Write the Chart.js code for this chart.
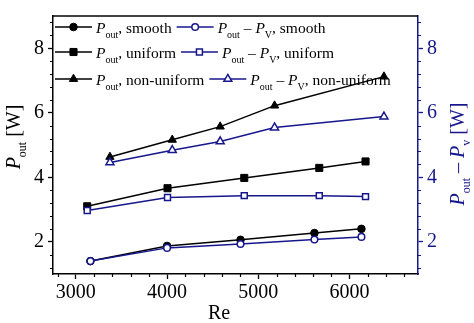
<!DOCTYPE html>
<html lang="en">
<head>
<meta charset="UTF-8">
<script src="https://cdn.jsdelivr.net/npm/chart.js"></script>
<title>Output power vs Re</title>
<style>
  body { margin: 0; background: #fff; }
</style>
</head>
<body>
<canvas id="powerChart" width="474" height="323"></canvas>
<script>
// Reynolds numbers and powers [W] for the three surfaces
const reSmooth = [3160, 4000, 4805, 5615, 6130];
const pOutSmooth = [1.40, 1.87, 2.06, 2.27, 2.40];
const pNetSmooth = [1.40, 1.81, 1.93, 2.07, 2.15];

const reUniform = [3125, 4005, 4846, 5668, 6175];
const pOutUniform = [3.10, 3.66, 3.98, 4.29, 4.49];
const pNetUniform = [2.97, 3.37, 3.43, 3.43, 3.40];

const reNonUniform = [3374, 4057, 4582, 5178, 6377];
const pOutNonUniform = [4.63, 5.16, 5.57, 6.22, 7.12];
const pNetNonUniform = [4.46, 4.84, 5.11, 5.54, 5.88];

const surfaces = ["smooth", "uniform", "non-uniform"];
const reTicks = [3000, 4000, 5000, 6000];
const powerTicks = [2, 4, 6, 8];

const SERIF = "'Liberation Serif', 'Times New Roman', serif";
const NAVY = "#17178c";

// minor ticks between the labelled ones
const reMinor = [];
for (let v = 2800; v <= 6600; v += 200) if (v % 1000) reMinor.push(v);
const powerMinor = [];
for (let v = 1.2; v < 9; v += 0.4) {
  const r = Math.round(v * 10) / 10;
  if (r % 2) powerMinor.push(r);
}

function pairs(xs, ys) {
  return xs.map((x, i) => ({ x: x, y: ys[i] }));
}

function series(label, xs, ys, color, style, radius, open, axis) {
  return {
    label: label,
    data: pairs(xs, ys),
    yAxisID: axis,
    showLine: true,
    borderColor: color,
    borderWidth: 1.5,
    pointStyle: style,
    pointRadius: radius,
    pointBackgroundColor: open ? "#fff" : color,
    pointBorderColor: color,
    pointBorderWidth: open ? 1.5 : 1,
    order: open ? 0 : 1
  };
}

const datasets = [
  series("Pout, smooth", reSmooth, pOutSmooth, "#000", "circle", 3.8, false, "y"),
  series("Pout, uniform", reUniform, pOutUniform, "#000", "rect", 5, false, "y"),
  series("Pout, non-uniform", reNonUniform, pOutNonUniform, "#000", "triangle", 4.8, false, "y"),
  series("Pout - PV, smooth", reSmooth, pNetSmooth, NAVY, "circle", 3.3, true, "y2"),
  series("Pout - PV, uniform", reUniform, pNetUniform, NAVY, "rect", 4.2, true, "y2"),
  series("Pout - PV, non-uniform", reNonUniform, pNetNonUniform, NAVY, "triangle", 4.6, true, "y2")
];

// text with italic symbols and subscripts
function drawRich(ctx, parts, x, y) {
  for (const p of parts) {
    ctx.font = (p.italic ? "italic " : "") + p.size + "px " + SERIF;
    ctx.fillText(p.text, x, y + (p.dy || 0));
    x += ctx.measureText(p.text).width;
  }
  return x;
}

function richWidth(ctx, parts) {
  let w = 0;
  for (const p of parts) {
    ctx.font = (p.italic ? "italic " : "") + p.size + "px " + SERIF;
    w += ctx.measureText(p.text).width;
  }
  return w;
}

function marker(ctx, ds, x, y) {
  const r = ds.pointRadius;
  ctx.beginPath();
  if (ds.pointStyle === "circle") {
    ctx.arc(x, y, r, 0, Math.PI * 2);
  } else if (ds.pointStyle === "rect") {
    const s = Math.SQRT1_2 * r;
    ctx.rect(x - s, y - s, 2 * s, 2 * s);
  } else {
    ctx.moveTo(x, y - r);
    ctx.lineTo(x + 0.866 * r, y + 0.5 * r);
    ctx.lineTo(x - 0.866 * r, y + 0.5 * r);
    ctx.closePath();
  }
  ctx.fillStyle = ds.pointBackgroundColor;
  ctx.fill();
  ctx.lineWidth = ds.pointBorderWidth;
  ctx.strokeStyle = ds.pointBorderColor;
  ctx.stroke();
}

function legendItem(ctx, ds, parts, x, y) {
  ctx.strokeStyle = ds.borderColor;
  ctx.lineWidth = 1.5;
  ctx.beginPath();
  ctx.moveTo(x, y);
  ctx.lineTo(x + 37, y);
  ctx.stroke();
  marker(ctx, ds, x + 18.5, y);
  ctx.fillStyle = "#000";
  return drawRich(ctx, parts, x + 41, y + 5.5);
}

const decorations = {
  id: "decorations",
  afterDraw(chart) {
    const ctx = chart.ctx;
    const area = chart.chartArea;
    const sx = chart.scales.x;
    const sy = chart.scales.y;
    ctx.save();

    // top frame
    ctx.strokeStyle = "#000";
    ctx.lineWidth = 1.5;
    ctx.beginPath();
    ctx.moveTo(area.left, area.top);
    ctx.lineTo(area.right, area.top);
    ctx.stroke();

    // minor ticks
    ctx.lineWidth = 1.2;
    ctx.beginPath();
    for (const v of reMinor) {
      const px = Math.round(sx.getPixelForValue(v)) + 0.5;
      ctx.moveTo(px, area.bottom);
      ctx.lineTo(px, area.bottom + 3);
    }
    for (const v of powerMinor) {
      const py = Math.round(sy.getPixelForValue(v)) + 0.5;
      ctx.moveTo(area.left - 3, py);
      ctx.lineTo(area.left, py);
    }
    ctx.stroke();
    ctx.strokeStyle = NAVY;
    ctx.beginPath();
    for (const v of powerMinor) {
      const py = Math.round(sy.getPixelForValue(v)) + 0.5;
      ctx.moveTo(area.right, py);
      ctx.lineTo(area.right + 3, py);
    }
    ctx.stroke();

    // axis titles
    ctx.textBaseline = "alphabetic";
    ctx.textAlign = "left";
    ctx.fillStyle = "#000";
    const reParts = [{ text: "Re", size: 20 }];
    drawRich(ctx, reParts, 219 - richWidth(ctx, reParts) / 2, 319);

    const leftParts = [
      { text: "P", size: 20, italic: true },
      { text: "out", size: 12, dy: 6 },
      { text: " [W]", size: 20 }
    ];
    ctx.save();
    ctx.translate(20, 137);
    ctx.rotate(-Math.PI / 2);
    drawRich(ctx, leftParts, -richWidth(ctx, leftParts) / 2, 0);
    ctx.restore();

    const rightParts = [
      { text: "P", size: 20, italic: true },
      { text: "out", size: 12, dy: 6 },
      { text: " \u2013 ", size: 20 },
      { text: "P", size: 20, italic: true },
      { text: "v", size: 12, dy: 6 },
      { text: " [W]", size: 20 }
    ];
    ctx.save();
    ctx.fillStyle = NAVY;
    ctx.translate(464, 154);
    ctx.rotate(-Math.PI / 2);
    drawRich(ctx, rightParts, -richWidth(ctx, rightParts) / 2, 0);
    ctx.restore();

    // legend, two entries per row
    const rows = [27, 52, 79];
    surfaces.forEach((name, i) => {
      const outParts = [
        { text: "P", size: 15.5, italic: true },
        { text: "out", size: 10, dy: 5 },
        { text: ", " + name, size: 15.5 }
      ];
      const netParts = [
        { text: "P", size: 15.5, italic: true },
        { text: "out", size: 10, dy: 5 },
        { text: " \u2013 ", size: 15.5 },
        { text: "P", size: 15.5, italic: true },
        { text: "V", size: 10, dy: 5 },
        { text: ", " + name, size: 15.5 }
      ];
      const end = legendItem(ctx, datasets[i], outParts, 55, rows[i]);
      legendItem(ctx, datasets[i + 3], netParts, end + 5, rows[i]);
    });

    ctx.restore();
  }
};

function axisSide(color, width) {
  return {
    type: "linear",
    min: 1,
    max: 9,
    afterBuildTicks: scale => { scale.ticks = powerTicks.map(v => ({ value: v })); },
    afterFit: scale => { scale.width = width; },
    grid: { drawOnChartArea: false, tickLength: 5, tickColor: color, tickWidth: 1.3 },
    border: { color: color, width: 1.5 },
    ticks: {
      color: color,
      padding: 4,
      font: { family: SERIF, size: 20 },
      callback: v => String(v)
    }
  };
}

new Chart(document.getElementById("powerChart"), {
  type: "scatter",
  data: { datasets: datasets },
  options: {
    responsive: false,
    animation: false,
    layout: { padding: { top: 8, left: 0, right: 0, bottom: 0 } },
    scales: {
      x: {
        type: "linear",
        position: "bottom",
        min: 2750,
        max: 6750,
        afterBuildTicks: scale => { scale.ticks = reTicks.map(v => ({ value: v })); },
        afterFit: scale => { scale.height = 49; },
        grid: { drawOnChartArea: false, tickLength: 5, tickColor: "#000", tickWidth: 1.3 },
        border: { color: "#000", width: 1.5 },
        ticks: {
          color: "#000",
          padding: 2,
          maxRotation: 0,
          font: { family: SERIF, size: 20 },
          callback: v => String(v)
        }
      },
      y: Object.assign(axisSide("#000", 53), { position: "left" }),
      y2: Object.assign(axisSide(NAVY, 56), { position: "right" })
    },
    plugins: {
      legend: { display: false },
      tooltip: { enabled: false }
    }
  },
  plugins: [decorations]
});
</script>
</body>
</html>
